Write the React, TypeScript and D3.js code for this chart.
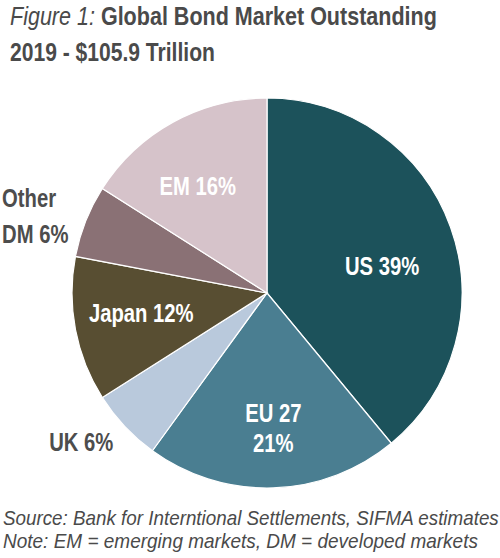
import * as d3 from "d3";
import React, { useEffect, useRef } from "react";

// market share of global bond market outstanding, 2019 (%)
const categories = ["US", "EU 27", "UK", "Japan", "Other DM", "EM"];
const shares = [39, 21, 6, 12, 6, 16];
const labelLines = [["US 39%"], ["EU 27", "21%"], ["UK 6%"], ["Japan 12%"], ["Other", "DM 6%"], ["EM 16%"]];
const colors = ["#1c525b", "#4a7e91", "#b9c9dc", "#584e32", "#8a7175", "#d6c3ca"];

// label placement: radius for centroid, nudges (dy = first baseline), anchor, fill
const labelStyle = [
  { r: 118, dx: 4, dy: 22, anchor: "middle", fill: "#fff", gap: 30 },
  { r: 136, dx: 2, dy: -7, anchor: "middle", fill: "#fff", gap: 30 },
  { r: 215, dx: 3, dy: 11, anchor: "end", fill: "#4d4d4d", gap: 30 },
  { r: 128, dx: 0, dy: 5, anchor: "middle", fill: "#fff", gap: 30 },
  { r: 215, dx: -65, dy: -7, anchor: "start", fill: "#4d4d4d", gap: 36 },
  { r: 125, dx: -9, dy: 12, anchor: "middle", fill: "#fff", gap: 30 },
];

const FONT = "'Liberation Sans', Arial, sans-serif";
const SQUEEZE = 0.81; // stand-in for a condensed face

type Slice = { name: string; value: number; i: number };

const PieChart: React.FC = () => {
  const svgRef = useRef<SVGSVGElement | null>(null);

  useEffect(() => {
    document.body.style.margin = "0";
    const width = 500;
    const height = 558;
    const cx = 267;
    const cy = 293;
    const radius = 195;

    const svg = d3.select(svgRef.current);
    svg.selectAll("*").remove();
    svg.attr("width", width).attr("height", height).style("display", "block");

    // squeeze a text horizontally so it spans the given width
    const fit = (sel: d3.Selection<SVGTextElement, unknown, null, undefined>, x: number, y: number, w: number) => {
      const natural = (sel.node() as SVGTextElement).getComputedTextLength();
      sel.attr("transform", `translate(${x}, ${y}) scale(${w / natural}, 1)`);
    };

    // Title
    const title = svg
      .append("text")
      .attr("font-family", FONT)
      .attr("font-size", "26px")
      .attr("fill", "#4a4a4a");
    title.append("tspan").attr("font-style", "italic").text("Figure 1: ");
    title.append("tspan").attr("font-weight", "bold").text("Global Bond Market Outstanding");
    fit(title, 10, 25, 427);

    const sub = svg
      .append("text")
      .attr("font-family", FONT)
      .attr("font-size", "26px")
      .attr("font-weight", "bold")
      .attr("fill", "#4a4a4a")
      .text("2019 - $105.9 Trillion");
    fit(sub, 10, 61, 205);

    const data: Slice[] = categories.map((name, i) => ({ name, value: shares[i], i }));
    const pie = d3
      .pie<Slice>()
      .sort(null)
      .value((d) => d.value);
    const arcs = pie(data);
    const arc = d3.arc<d3.PieArcDatum<Slice>>().innerRadius(0).outerRadius(radius);

    const g = svg.append("g").attr("transform", `translate(${cx}, ${cy})`);

    g.selectAll("path")
      .data(arcs)
      .enter()
      .append("path")
      .attr("d", arc)
      .attr("fill", (d) => colors[d.data.i])
      .attr("stroke", "#fff")
      .attr("stroke-width", 1.2);

    // Labels
    arcs.forEach((d) => {
      const s = labelStyle[d.data.i];
      const lines = labelLines[d.data.i];
      const [lx, ly] = d3.arc<d3.PieArcDatum<Slice>>().innerRadius(s.r).outerRadius(s.r).centroid(d);
      lines.forEach((line, k) => {
        g.append("text")
          .attr("transform", `translate(${lx + s.dx}, ${ly + s.dy + k * s.gap}) scale(${SQUEEZE}, 1)`)
          .attr("font-family", FONT)
          .attr("font-size", "25px")
          .attr("font-weight", "bold")
          .attr("fill", s.fill)
          .attr("text-anchor", s.anchor)
          .text(line);
      });
    });

    // Footnotes
    const notes = [
      "Source: Bank for Interntional Settlements, SIFMA estimates",
      "Note: EM = emerging markets, DM = developed markets",
    ];
    const noteWidths = [496, 475];
    notes.forEach((n, i) => {
      const t = svg
        .append("text")
        .attr("font-family", FONT)
        .attr("font-size", "20px")
        .attr("font-style", "italic")
        .attr("fill", "#4a4a4a")
        .text(n);
      fit(t, 3, 525 + i * 23, noteWidths[i]);
    });
  }, []);

  return (
    <div>
      <svg ref={svgRef}></svg>
    </div>
  );
};

export default function App() {
  return <PieChart />;
}
